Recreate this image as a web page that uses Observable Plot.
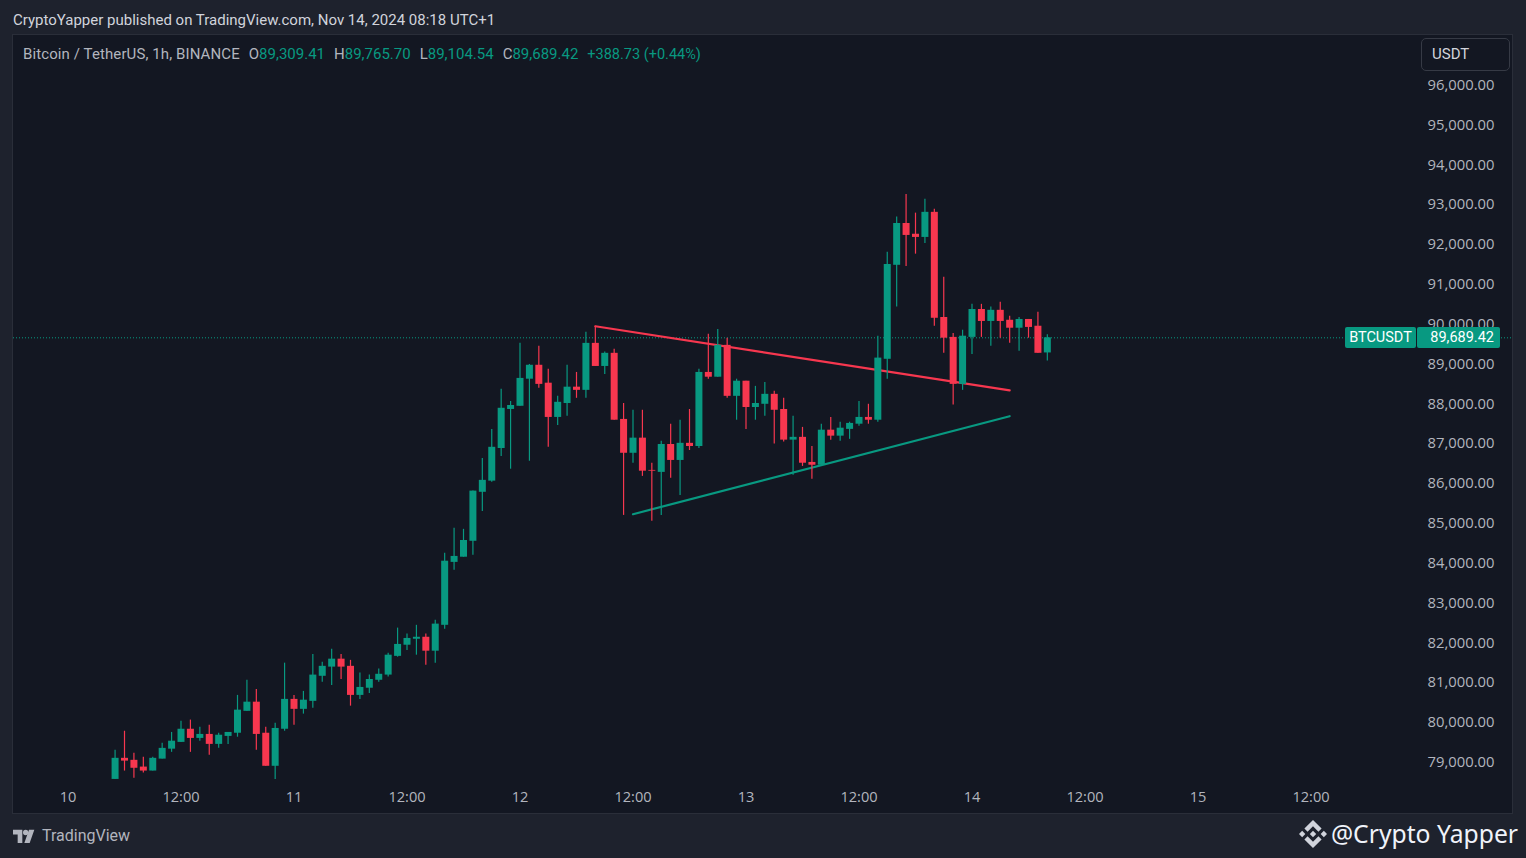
<!DOCTYPE html>
<html>
<head>
<meta charset="utf-8">
<script src="https://cdn.jsdelivr.net/npm/d3@7"></script>
<script src="https://cdn.jsdelivr.net/npm/@observablehq/plot@0.6"></script>
<style>
html,body{margin:0;padding:0;background:#1e222d;}
#page{position:relative;width:1526px;height:858px;overflow:hidden;background:#1e222d;font-family:Roboto,sans-serif;}
#head{position:absolute;left:13px;top:11px;color:#d1d4dc;font:15px/18px Roboto,sans-serif;white-space:nowrap;}
#panel{position:absolute;left:12px;top:34px;width:1499px;height:778px;border:1px solid #2a2e39;background:#131722;}
#panel svg{display:block;}
#legend{position:absolute;left:10px;top:10px;font:15px/18px Roboto,sans-serif;color:#b2b5be;white-space:nowrap;}
#legend b{font-weight:400;color:#089981;}
#legend span{margin-left:9px;}
#legend span.chg{font-size:14.5px;}
#legend i{font-style:normal;letter-spacing:.1px;}
#unit{position:absolute;left:1408px;top:3px;width:87px;height:31px;border:1px solid #363a45;border-radius:5px;color:#d1d4dc;font:15px/31px Roboto,sans-serif;text-indent:10px;}
.tag{position:absolute;top:292px;height:21px;background:#089981;color:#fff;font:14.5px/21px Roboto,sans-serif;text-align:center;border-radius:2px;}
#foot1{position:absolute;left:13px;top:826px;height:20px;color:#b2b5be;font:16px/20px Roboto,sans-serif;display:flex;align-items:center;gap:5px;}
#foot2{position:absolute;right:8px;top:817px;height:34px;color:#f0f3fa;font:24.7px/34px "Noto Sans",sans-serif;display:flex;align-items:center;gap:4px;white-space:nowrap;}
</style>
</head>
<body>
<div id="page">
  <div id="head">CryptoYapper published on TradingView.com, Nov 14, 2024 08:18 UTC+1</div>
  <div id="panel">
    <div id="chart"></div>
    <div id="legend"></div>
    <div id="unit">USDT</div>
    <div class="tag" style="left:1332px;width:71px">BTCUSDT</div>
    <div class="tag" style="left:1404px;width:77px;padding-right:6px;text-align:right">89,689.42</div>
  </div>
  <div id="foot1">
    <svg width="24" height="14" viewBox="0 0 36 20" preserveAspectRatio="none"><path fill="#b2b5be" d="M14 20H7V8H0V1h14zM24 1l-7 19h8l7-19z"/><circle fill="#b2b5be" cx="19" cy="5" r="4"/></svg>
    <span>TradingView</span>
  </div>
  <div id="foot2">
    <svg width="28" height="28" viewBox="0 0 126.610 126.610"><path fill="#d1d4dc" d="M38.730 53.200l24.590-24.580 24.600 24.600 14.300-14.310L63.320 0 24.430 38.900l14.300 14.300zM0 63.310l14.300-14.310 14.310 14.310-14.310 14.300zM38.730 73.410l24.590 24.590 24.600-24.600 14.310 14.290-38.900 38.910-38.910-38.880v-.03l14.310-14.280zM98 63.310l14.300-14.300 14.310 14.300-14.310 14.310zM77.830 63.300L63.320 48.780 52.590 59.510l-1.240 1.230-2.540 2.540 14.510 14.500 14.510-14.470z"/></svg>
    <span>@Crypto Yapper</span>
  </div>
</div>
<script>
// Hourly BTC/USDT candles, first candle Nov 10 2024 05:00
const firstCandle = [2024, 10, 10, 5];
const opens = [78600,79130,79080,78910,78810,79110,79360,79530,79860,79630,79730,79480,79680,79760,80310,80540,79760,78930,79860,80610,
80360,80560,81190,81420,81620,81440,80710,80890,81090,81220,81690,81970,82120,82170,81820,82470,84050,84180,84580,85810,
86090,86910,87890,87970,88650,89000,88550,87690,88040,88450,88370,89550,88970,89300,87640,86790,87170,86360,86310,87010,
86610,87040,86960,88820,88700,89500,88220,88600,87940,88020,88270,87890,87120,87190,86560,86490,87370,87220,87390,87520,
87690,87620,89150,91510,92560,92290,92210,92840,90200,89700,88520,89700,90400,90100,90380,90130,89930,90150,89980,89309.41];
const highs = [79330,79810,79260,79160,79160,79510,79780,80060,80090,79910,79960,79760,79780,80710,81090,80860,79910,80010,81520,80710,
80810,81740,81540,81870,81740,81590,81270,81220,81370,81770,82400,82250,82470,82250,82600,84280,84910,84880,85840,86660,
87390,88400,88090,89550,89020,89480,88900,88220,89000,88820,89830,89980,89330,89400,88040,87870,87870,86540,87090,87520,
87620,87890,88900,89780,89900,89680,88650,88600,88470,88570,88350,88170,87720,87440,86960,87520,87690,87570,87570,88090,
88020,89730,91840,92720,93290,92820,93170,92920,91210,89800,89880,90530,90530,90460,90580,90230,90200,90150,90330,89765.70];
const lows = [78600,78810,78630,78760,78810,79110,79280,79530,79280,79560,79210,79380,79480,79660,80310,79330,78930,78600,79810,79960,
80240,80390,81040,80960,81110,80440,80610,80760,81040,81170,81670,81840,81720,81470,81520,82370,83850,84180,84230,85330,
86060,86710,86390,87970,86590,88420,86940,87490,87720,88170,88170,88970,88770,87620,85230,86540,86210,85080,85230,86160,
85730,86860,86910,88650,88700,88170,87620,87390,87620,87720,87020,87070,86240,86460,86140,86490,87120,87090,87140,87470,
87520,87570,88650,90460,91480,91790,92060,89980,89300,88000,88370,89270,89700,89480,89680,89550,89350,89680,89300,89104.54];
const closes = [79130,79060,78880,78810,79130,79380,79560,79860,79630,79730,79480,79710,79780,80340,80540,79730,78930,79880,80610,80360,
80590,81220,81440,81620,81420,80710,80910,81110,81240,81720,81990,82140,82170,81820,82500,84080,84200,84600,85840,86110,
86940,87920,87990,88670,89000,88520,87690,88070,88450,88370,89550,88970,89300,87620,86790,87170,86340,86340,87010,86610,
87040,86960,88820,88700,89500,88220,88600,87940,88040,88270,87870,87120,87190,86540,86490,87370,87220,87420,87540,87690,
87620,89180,91530,92560,92260,92210,92840,90180,89680,88520,89730,90400,90100,90380,90100,89930,90150,89950,89300,89689.42];

const yTicks = [96000,95000,94000,93000,92000,91000,90000,89000,88000,87000,86000,85000,84000,83000,82000,81000,80000,79000];
const xTicks = ["2024-11-10T00:00Z","2024-11-10T12:00Z","2024-11-11T00:00Z","2024-11-11T12:00Z","2024-11-12T00:00Z","2024-11-12T12:00Z",
"2024-11-13T00:00Z","2024-11-13T12:00Z","2024-11-14T00:00Z","2024-11-14T12:00Z","2024-11-15T00:00Z","2024-11-15T12:00Z"].map(d=>new Date(d));
const lastPrice = 89689.42;
const resistance = [{t:new Date("2024-11-12T08:00Z"),p:89980},{t:new Date("2024-11-14T04:00Z"),p:88370}];
const support = [{t:new Date("2024-11-12T12:00Z"),p:85260},{t:new Date("2024-11-14T04:00Z"),p:87720}];
const UP = "#089981", DOWN = "#f7374f";

const rows = opens.map((o,i)=>({
  t:new Date(Date.UTC(firstCandle[0],firstCandle[1],firstCandle[2],firstCandle[3]+i)),
  o, h:highs[i], l:lows[i], c:closes[i]
}));
const up = rows.filter(d=>d.c>=d.o), down = rows.filter(d=>d.c<d.o);
const bodyW = 7, wickW = 1.2;

const chart = Plot.plot({
  width:1499, height:778, margin:0,
  style:{background:"transparent", fontFamily:"Roboto,sans-serif"},
  x:{type:"utc", domain:[xTicks[0], xTicks[xTicks.length-1]], range:[54.5,1297.5]},
  y:{domain:[79000,96000], range:[728,51]},
  marks:[
    Plot.ruleY([lastPrice],{stroke:UP, strokeDasharray:"1 2", strokeWidth:1}),
    Plot.line(resistance,{x:"t",y:"p",stroke:DOWN,strokeWidth:2.2}),
    Plot.line(support,{x:"t",y:"p",stroke:UP,strokeWidth:2.2}),
    Plot.ruleX(up,{x:"t",y1:"l",y2:"h",stroke:UP,strokeWidth:wickW}),
    Plot.ruleX(down,{x:"t",y1:"l",y2:"h",stroke:DOWN,strokeWidth:wickW}),
    Plot.ruleX(up,{x:"t",y1:"o",y2:"c",stroke:UP,strokeWidth:bodyW}),
    Plot.ruleX(down,{x:"t",y1:"o",y2:"c",stroke:DOWN,strokeWidth:bodyW}),
    Plot.axisY(yTicks,{anchor:"right",tickSize:0,tickPadding:0,dx:-18,dy:-1.25,textAnchor:"end",label:null,
      tickFormat:d=>d3.format(",.2f")(d),fill:"#b2b5be",fontSize:14.8,fontFamily:"Open Sans"}),
    Plot.axisX(xTicks,{anchor:"bottom",tickSize:0,tickPadding:0,lineAnchor:"middle",dy:-16,label:null,
      tickFormat:d=>d.getUTCHours()===0?String(d.getUTCDate()):"12:00",fill:"#b2b5be",fontSize:14.6,fontFamily:"Open Sans"})
  ]
});
document.getElementById("chart").append(chart);

const last = rows[rows.length-1];
const f = d3.format(",.2f");
document.getElementById("legend").innerHTML =
  `<i>Bitcoin / TetherUS, 1h, BINANCE</i><span>O<b>${f(last.o)}</b></span><span>H<b>${f(last.h)}</b></span>`+
  `<span>L<b>${f(last.l)}</b></span><span>C<b>${f(last.c)}</b></span><span class="chg"><b>+388.73 (+0.44%)</b></span>`;
</script>
</body>
</html>
